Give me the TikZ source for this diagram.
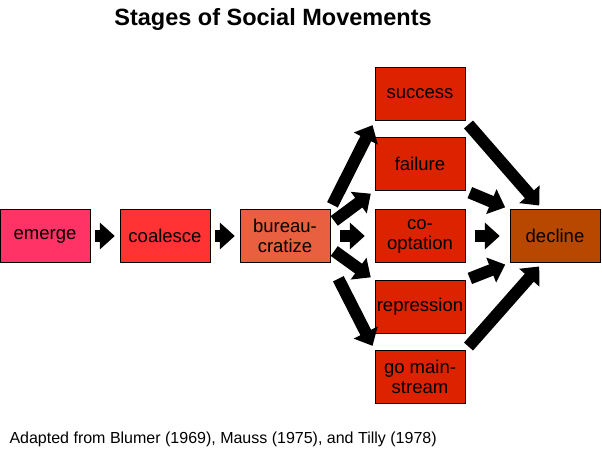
\documentclass[tikz,border=0pt]{standalone}
\usepackage{fontspec}
\setmainfont{Liberation Sans}
\usetikzlibrary{arrows.meta}
\definecolor{pink}{RGB}{255,51,102}
\definecolor{redlight}{RGB}{255,51,51}
\definecolor{salmon}{RGB}{232,96,64}
\definecolor{redmid}{RGB}{221,34,0}
\definecolor{brown}{RGB}{184,72,0}

\begin{document}
\begin{tikzpicture}[x=1pt, y=-1pt,
    stage/.style={draw=black, minimum width=90pt, minimum height=53pt, inner sep=0pt,
        align=center, font=\fontsize{18.5}{20}\selectfont},
    blk/.style={line width=12pt, -{Triangle[length=15pt, width=26pt]}, shorten <=5pt, shorten >=5pt}]

    \useasboundingbox (0,0) rectangle (602,463);

    \node[font=\bfseries\fontsize{23.5}{26}\selectfont] (title) at (273,19) {Stages of Social Movements};

    \node[stage, fill=pink] (emg) at (45,236) {emerge};
    \node[stage, fill=redlight] (coa) at (165,236) {coalesce};
    \node[stage, fill=salmon] (bur) at (285,236) {bureau-\\cratize};
    \node[stage, fill=redmid] (suc) at (420,94) {success};
    \node[stage, fill=redmid] (fai) at (420,164) {failure};
    \node[stage, fill=redmid] (coo) at (420,236) {co-\\optation};
    \node[stage, fill=redmid] (rep) at (420,307) {repression};
    \node[stage, fill=redmid] (mai) at (420,377) {go main-\\stream};
    \node[stage, fill=brown] (dec) at (555,236) {decline};

    \draw[blk] (emg) -- (coa);
    \draw[blk] (coa) -- (bur);
    \draw[blk, shorten <=10pt, shorten >=10pt] (bur) -- (coo);
    \draw[blk] (bur.north east) -- (suc.south west);
    \draw[blk] (bur.15) -- (fai.south west);
    \draw[blk] (bur.-15) -- (rep.north west);
    \draw[blk, shorten <=18pt] (bur.south east) -- (mai.north west);
    \draw[blk] (suc.south east) -- (dec.115);
    \draw[blk] (fai.south east) -- (dec.north west);
    \draw[blk, shorten <=10pt, shorten >=10pt] (coo) -- (dec);
    \draw[blk] (rep.north east) -- (dec.south west);
    \draw[blk] (mai.north east) -- (dec.-115);

    \node[anchor=west, font=\fontsize{16}{18}\selectfont] (src) at (6,439)
        {Adapted from Blumer (1969), Mauss (1975), and Tilly (1978)};

\end{tikzpicture}
\end{document}
